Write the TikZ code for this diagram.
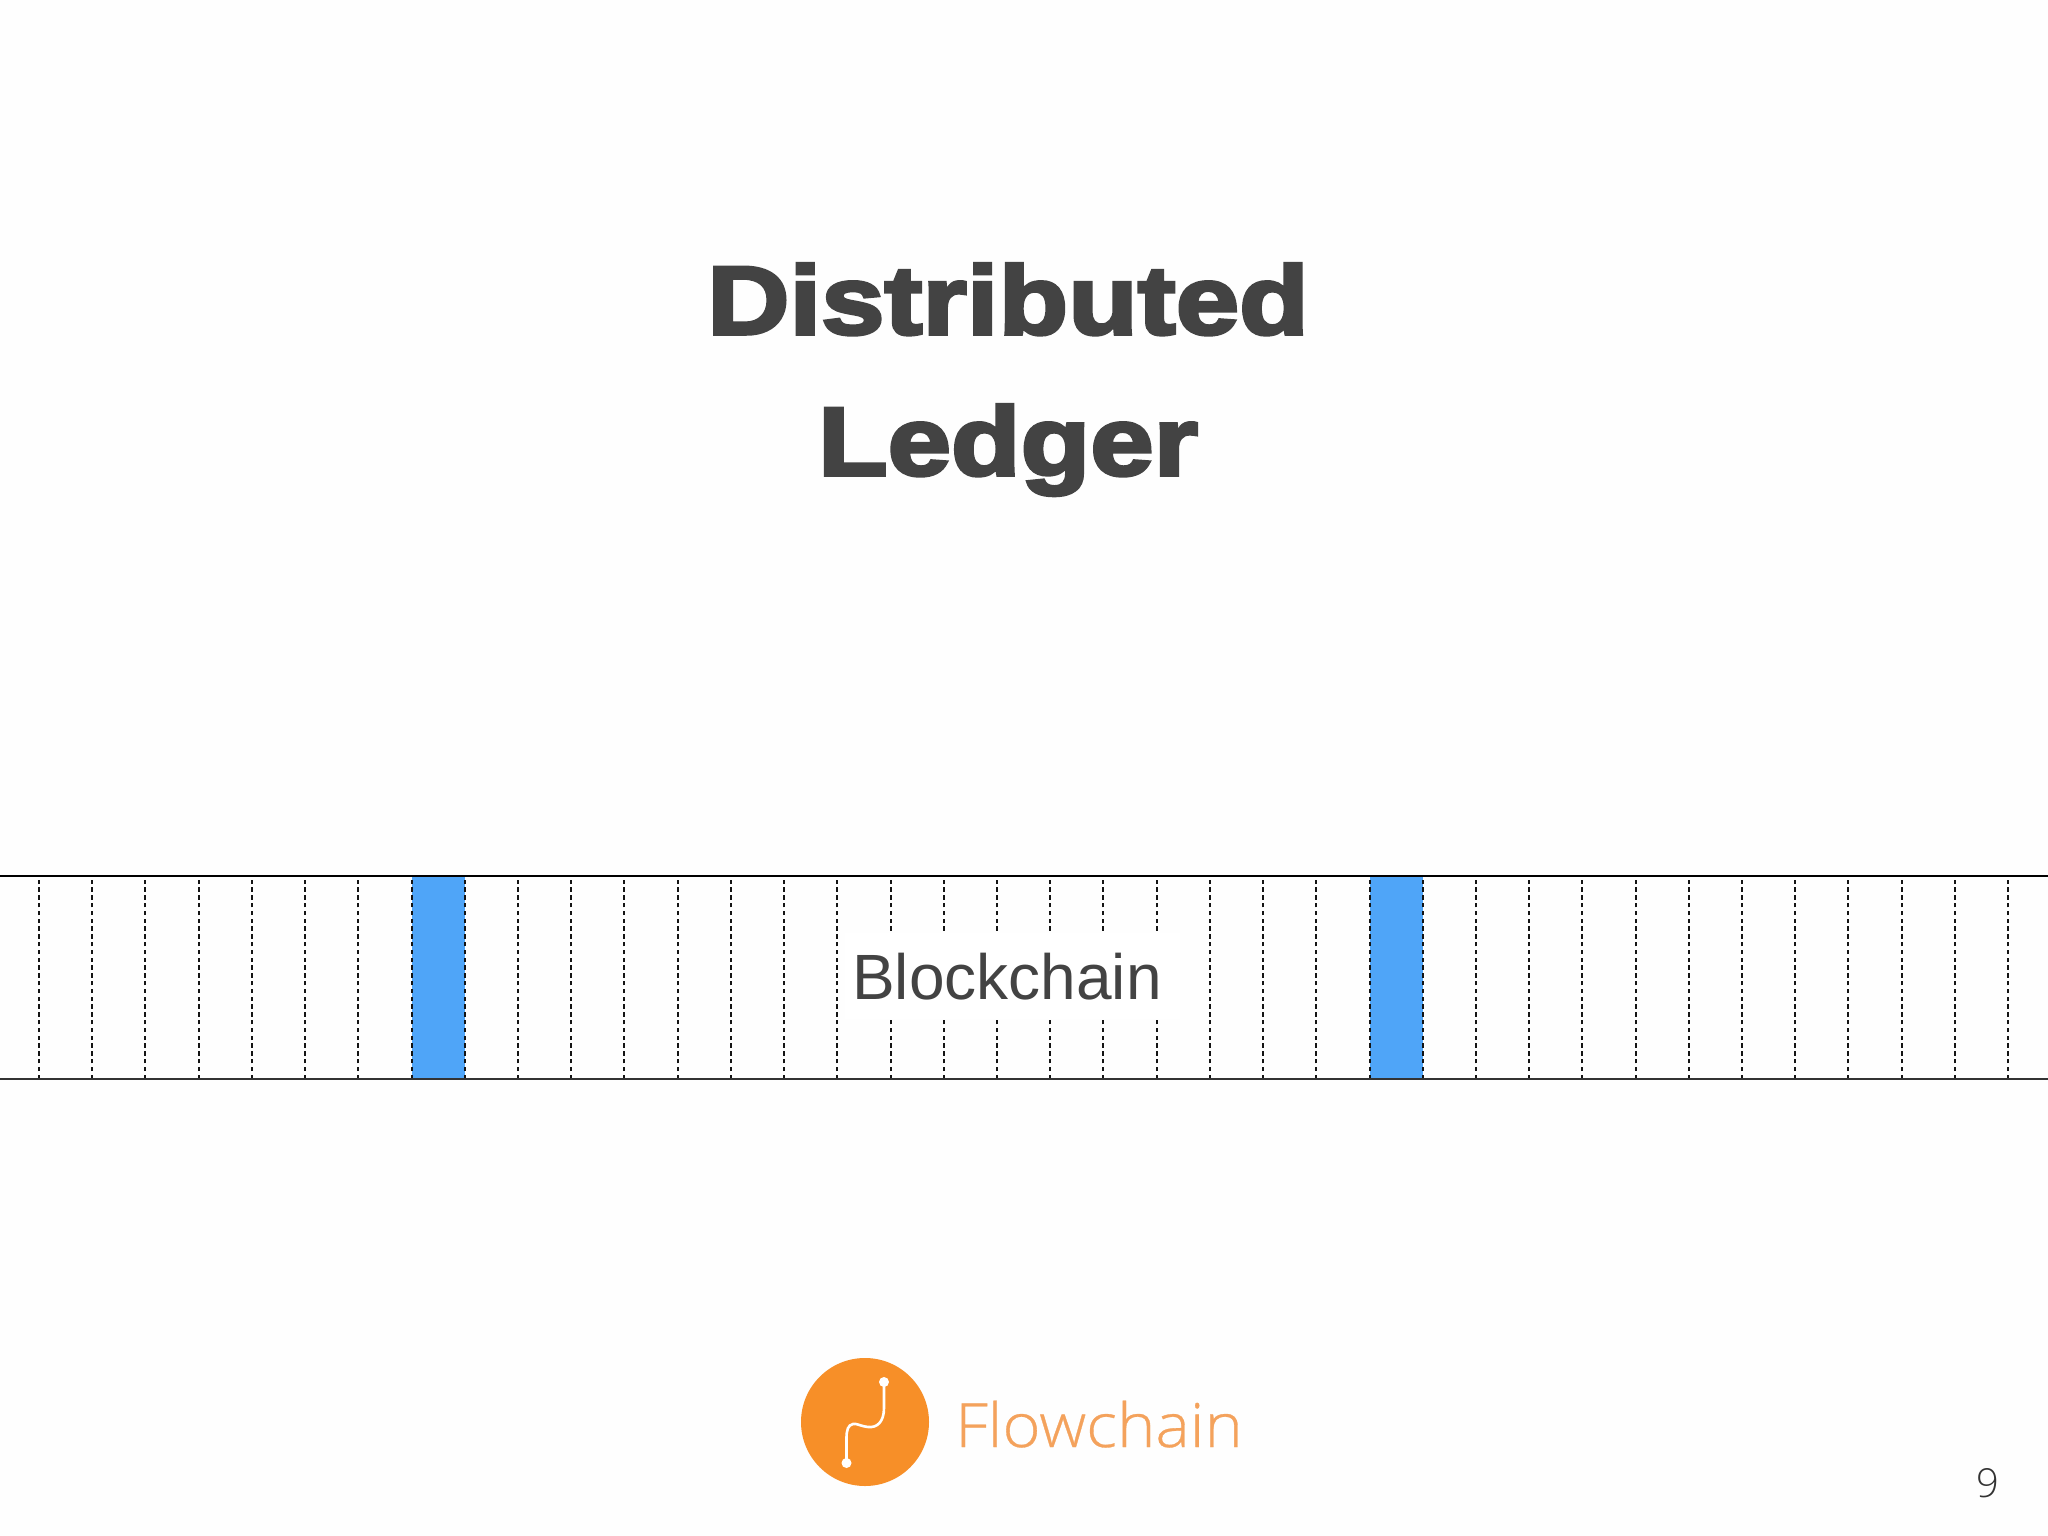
\documentclass[tikz,border=0pt]{standalone}
\usepackage{fontspec}
\setmainfont{Liberation Sans}
\newfontfamily\titlefont[FakeBold=3.6,FakeStretch=1.175]{Liberation Sans Bold}
\newfontfamily\thinfont{Open Sans Light}
\newfontfamily\flowfont[FakeStretch=1.065,FakeBold=0.5]{Open Sans Light}
\definecolor{ink}{HTML}{434343}
\definecolor{chainblue}{HTML}{4FA5F8}
\definecolor{floworange}{HTML}{F78F28}
\definecolor{flowtext}{HTML}{F4A25C}
\tikzset{
  titletext/.style={font=\titlefont\fontsize{97}{97}\selectfont,text=ink,inner sep=0pt},
  chainlabel/.style={font=\fontsize{64}{64}\selectfont,text=ink,inner sep=0pt},
  railline/.style={line width=2pt,black},
  slotline/.style={line width=2pt,black!92,dash pattern=on 4.4pt off 3.4pt},
  blueblock/.style={fill=chainblue,draw=none},
}
\begin{document}
\begin{tikzpicture}[x=1pt,y=-1pt]
\useasboundingbox (0,0) rectangle (2048,1536);
\fill[white!99.5!black] (0,0) rectangle (2048,1536);
% blocks
\fill[blueblock] (412,876) rectangle (465,1079);
\fill[blueblock] (1370,876) rectangle (1423,1079);
% slot separators
\foreach \i in {0,...,37}{
  \pgfmathsetmacro{\xx}{round(39+53.22*\i)}
  \draw[slotline] (\xx,1079) -- (\xx,877);
}
% label mask
\fill[white] (845,933) rectangle (1180,1019);
% rails
\coordinate (tl) at (0,876);\coordinate (tr) at (2048,876);
\coordinate (bl) at (0,1079);\coordinate (br) at (2048,1079);
\draw[railline] (tl) -- (tr);
\draw[railline,black!80] (bl) -- (br);
\node[chainlabel,anchor=base] (chain) at (1007,999) {Blockchain};
% title
\node[titletext,anchor=base] (t1) at (1008,334) {Distributed};
\node[titletext,anchor=base] (t2) at (1008,475) {Ledger};
% logo
\fill[floworange] (865,1422) circle (64);
\draw[white,line width=2.6pt] (884,1382) -- (884,1408)
  .. controls (884,1422) and (877,1428) .. (868,1427)
  .. controls (860,1426) and (856,1423) .. (853,1424)
  .. controls (848,1425) and (846.5,1430) .. (846.5,1438) -- (846.5,1463);
\fill[white] (884,1382) circle (5);
\fill[white] (846.5,1463) circle (5);
\node[font=\flowfont\fontsize{61}{61}\selectfont,text=flowtext,anchor=base west,inner sep=0pt] (flow) at (955,1447) {Flowchain};
\node[font=\thinfont\fontsize{40}{40}\selectfont,text=black!80,anchor=base,inner sep=0pt] (page) at (1988,1497) {9};
\end{tikzpicture}
\end{document}
